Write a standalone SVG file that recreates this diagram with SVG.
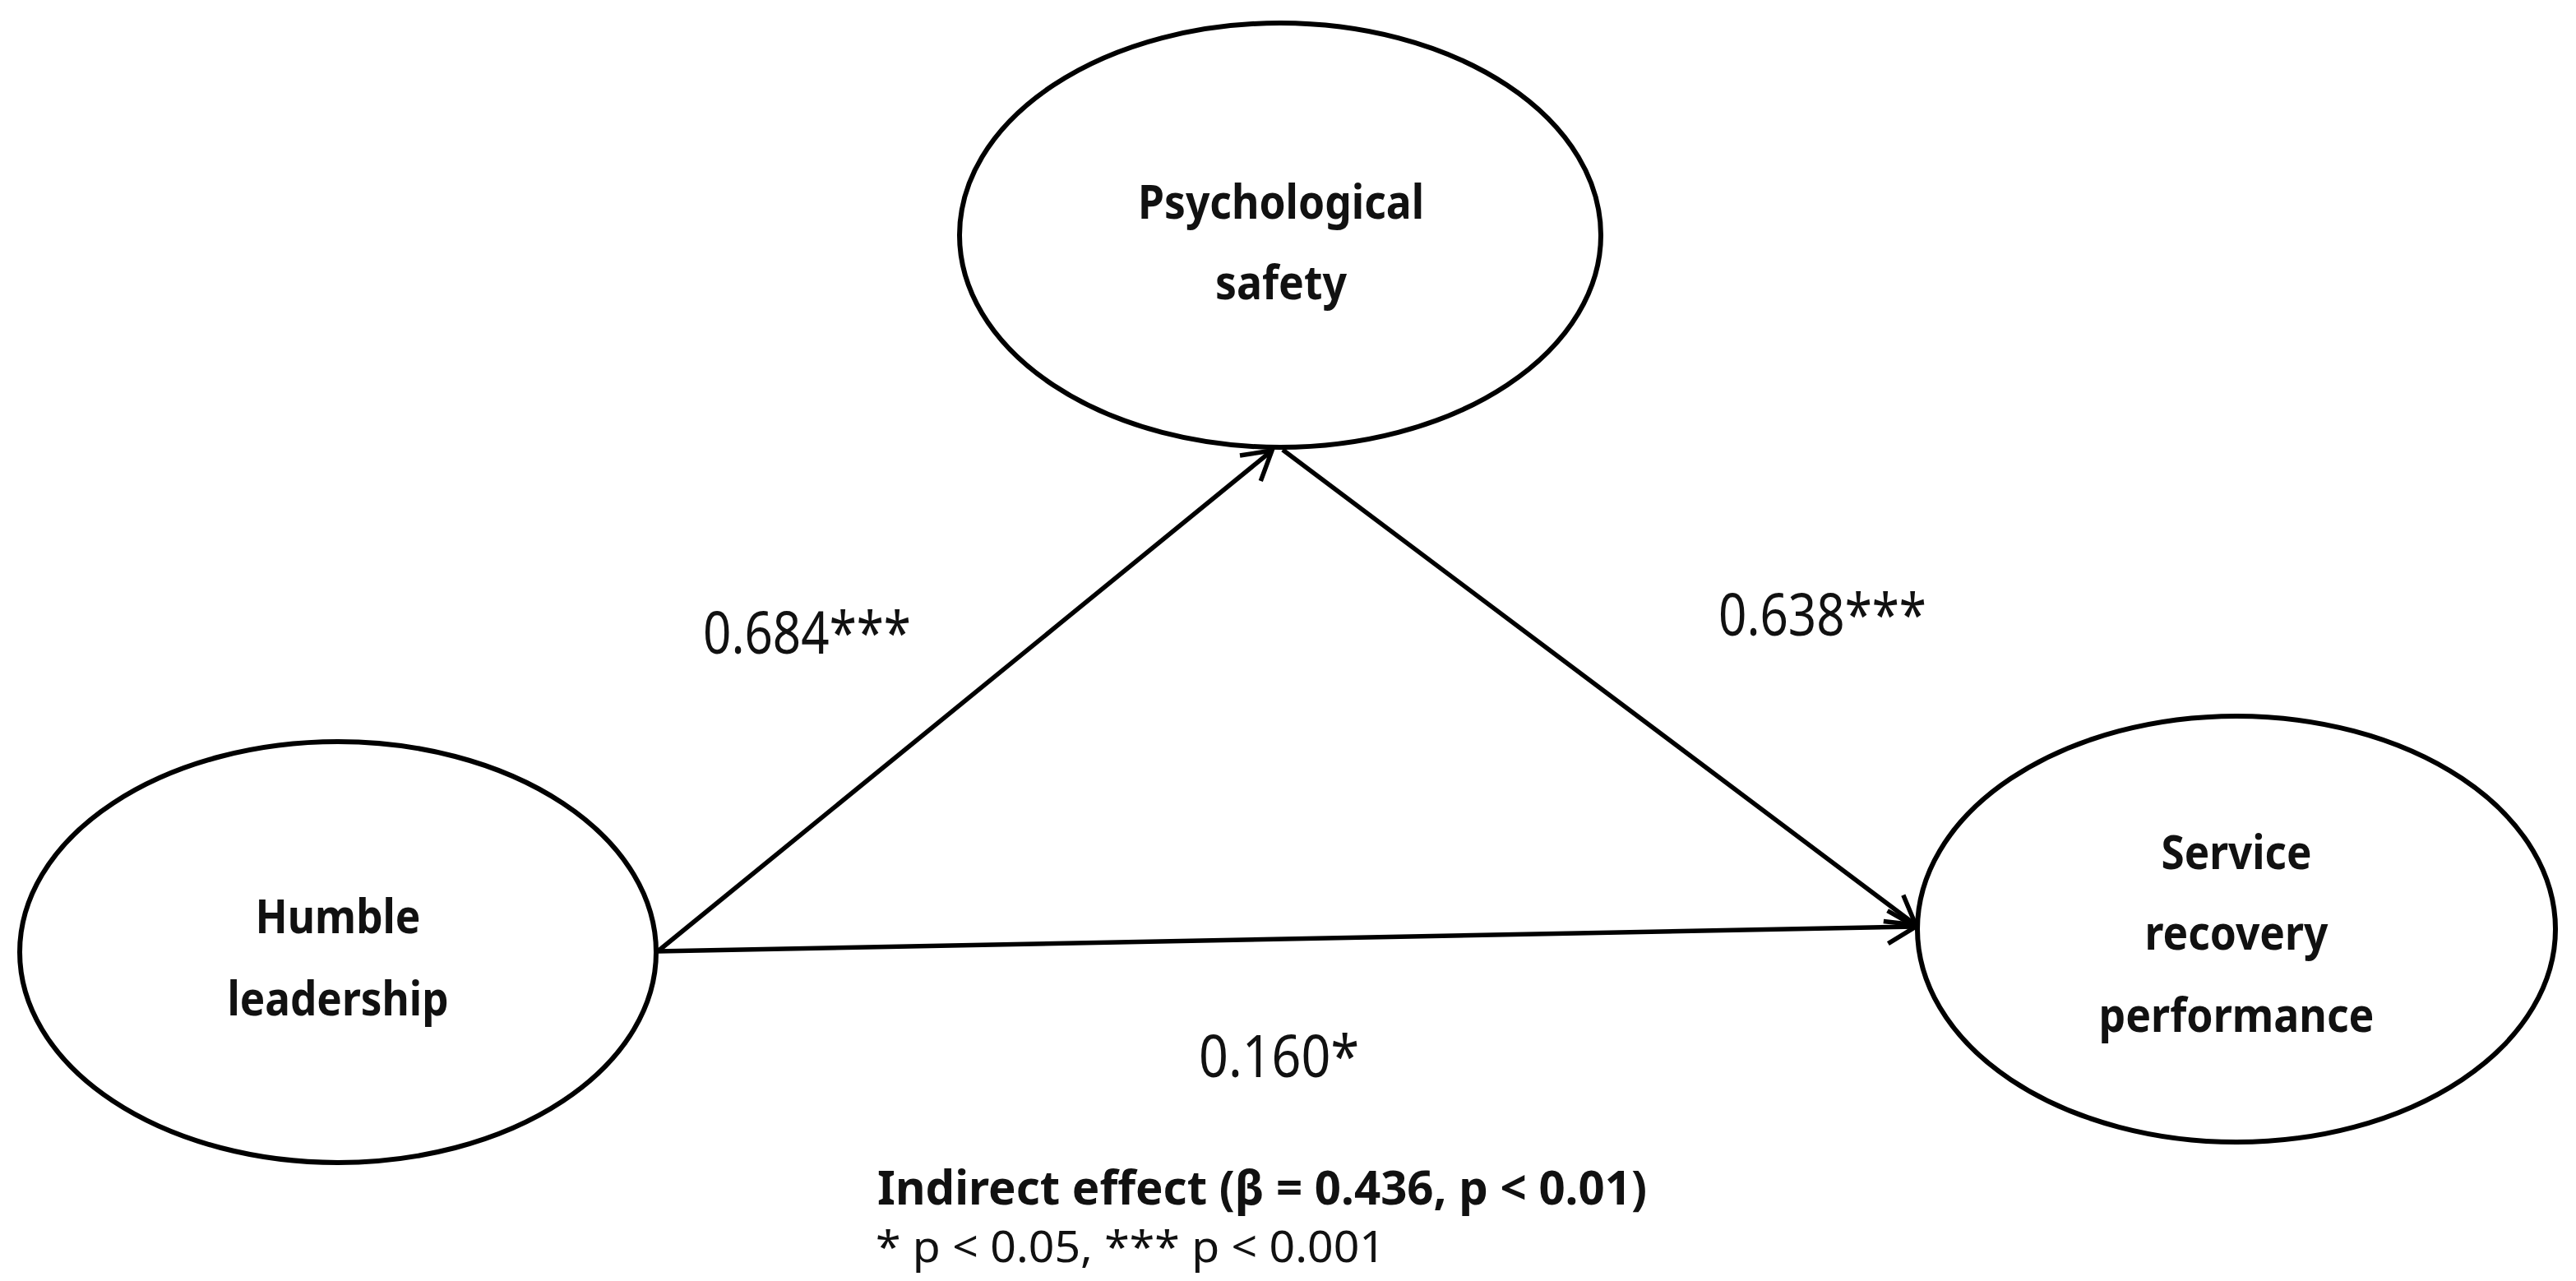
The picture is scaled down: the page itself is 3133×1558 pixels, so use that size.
<svg xmlns="http://www.w3.org/2000/svg" width="3133" height="1558" viewBox="0 0 3133 1558">
<style>
.node{fill:#fff;stroke:#000;stroke-width:6}
.lbl{font-family:"Noto Sans","Open Sans",sans-serif;font-weight:bold;font-size:57px;fill:#111;text-anchor:middle}
.num{font-family:"Noto Sans","Open Sans",sans-serif;font-size:72px;fill:#111}
.conn{stroke:#000;stroke-width:5.5;fill:none}
.note{font-family:"Noto Sans","Open Sans",sans-serif;fill:#111}
</style>
<defs>
<marker id="arr" markerUnits="userSpaceOnUse" markerWidth="60" markerHeight="60" viewBox="-45 -30 50 60" refX="0" refY="0" orient="auto">
<path d="M -34 -20 L 0 0 L -34 20" fill="none" stroke="#000" stroke-width="5.5"/>
</marker>
</defs>
<rect width="3133" height="1558" fill="#fff"/>
<g id="connectors">
<line class="conn" x1="800" y1="1157" x2="1547" y2="548" marker-end="url(#arr)"/>
<line class="conn" x1="800" y1="1157" x2="2330" y2="1127" marker-end="url(#arr)"/>
<line class="conn" x1="1560" y1="547" x2="2330" y2="1125" marker-end="url(#arr)"/>
</g>
<g id="node-psych">
<ellipse class="node" cx="1557" cy="286" rx="390" ry="258"/>
<text class="lbl" x="1558" y="266" textLength="348" lengthAdjust="spacingAndGlyphs">Psychological</text>
<text class="lbl" x="1558" y="364" textLength="160" lengthAdjust="spacingAndGlyphs">safety</text>
</g>
<g id="node-humble">
<ellipse class="node" cx="411" cy="1158" rx="387" ry="256"/>
<text class="lbl" x="411" y="1135" textLength="201" lengthAdjust="spacingAndGlyphs">Humble</text>
<text class="lbl" x="411" y="1235" textLength="269" lengthAdjust="spacingAndGlyphs">leadership</text>
</g>
<g id="node-service">
<ellipse class="node" cx="2720" cy="1130" rx="388" ry="259"/>
<text class="lbl" x="2720" y="1057" textLength="183" lengthAdjust="spacingAndGlyphs">Service</text>
<text class="lbl" x="2720" y="1155" textLength="223" lengthAdjust="spacingAndGlyphs">recovery</text>
<text class="lbl" x="2720" y="1255" textLength="335" lengthAdjust="spacingAndGlyphs">performance</text>
</g>
<g id="labels">
<text class="num" x="855" y="795" textLength="253" lengthAdjust="spacingAndGlyphs">0.684***</text>
<text class="num" x="2090" y="773" textLength="253" lengthAdjust="spacingAndGlyphs">0.638***</text>
<text class="num" x="1458" y="1310" textLength="195" lengthAdjust="spacingAndGlyphs">0.160*</text>
<text class="note" x="1067" y="1465" font-size="57" font-weight="bold" textLength="936" lengthAdjust="spacingAndGlyphs">Indirect effect (β = 0.436, p &lt; 0.01)</text>
<text class="note" x="1065" y="1535" font-size="53" textLength="620" lengthAdjust="spacingAndGlyphs">* p &lt; 0.05, *** p &lt; 0.001</text>
</g>
</svg>
